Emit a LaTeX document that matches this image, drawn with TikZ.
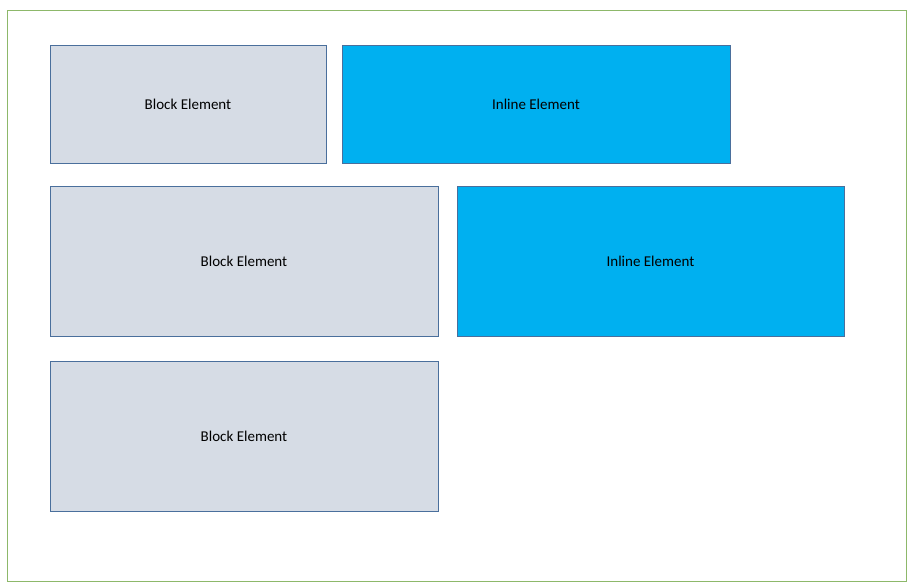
\documentclass[tikz,border=0pt]{standalone}
\usepackage{fontspec}
\setmainfont{Carlito}
\definecolor{blk}{HTML}{D6DCE5}
\definecolor{inl}{HTML}{00B0F0}
\definecolor{edge}{HTML}{4A6F9C}
\definecolor{frame}{HTML}{8DB86A}
\begin{document}
\begin{tikzpicture}[x=1pt,y=-1pt,
  bx/.style={draw=edge,line width=0.6pt,font=\fontsize{15}{18}\selectfont}]
\fill[white] (0,0) rectangle (912,588);
\useasboundingbox (0,0) rectangle (912,588);
\draw[frame,line width=0.8pt] (7,10) rectangle (906,581);
\node[bx,fill=blk,minimum width=276,minimum height=118] (b1) at (188,104) {Block Element};
\node[bx,fill=inl,minimum width=388,minimum height=118] (i1) at (536,104) {Inline Element};
\node[bx,fill=blk,minimum width=388,minimum height=150] (b2) at (244,261) {Block Element};
\node[bx,fill=inl,minimum width=387,minimum height=150] (i2) at (650.5,261) {Inline Element};
\node[bx,fill=blk,minimum width=388,minimum height=150] (b3) at (244,436) {Block Element};
\end{tikzpicture}
\end{document}
